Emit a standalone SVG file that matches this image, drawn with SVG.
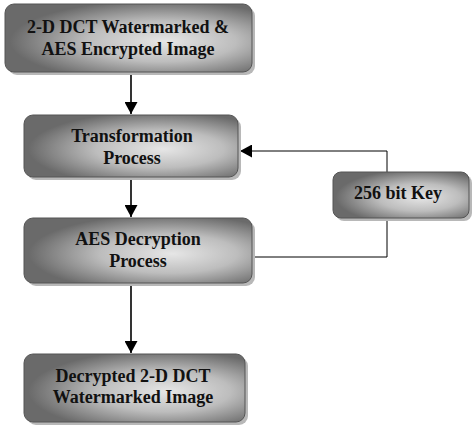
<svg xmlns="http://www.w3.org/2000/svg" width="474" height="430" viewBox="0 0 474 430">
<style>
.box{fill:url(#g);stroke:#555;stroke-width:1}
.sh{fill:#b8b8b8}
.t{font-family:"Liberation Serif",serif;font-weight:bold;font-size:18px;fill:#111;text-anchor:middle}
.c{fill:none;stroke:#000;stroke-width:1.6}
.k{fill:none;stroke:#000;stroke-width:1}
</style>
<defs>
<radialGradient id="g" cx="0.62" cy="0.55" r="0.6" fx="0.65" fy="0.55">
<stop offset="0" stop-color="#e6e6e6"/>
<stop offset="0.5" stop-color="#bdbdbd"/>
<stop offset="1" stop-color="#6a6a6a"/>
</radialGradient>
<marker id="a" markerWidth="13" markerHeight="13" refX="12" refY="6.5" orient="auto" markerUnits="userSpaceOnUse">
<path d="M0,0 L12,6.5 L0,13 Z" fill="#000"/>
</marker>
</defs>
<g id="connectors">
<line class="c" x1="131" y1="72" x2="131" y2="114" marker-end="url(#a)"/>
<line class="c" x1="131" y1="177" x2="131" y2="217" marker-end="url(#a)"/>
<line class="c" x1="131" y1="283" x2="131" y2="353" marker-end="url(#a)"/>
<polyline class="k" points="387,172 387,151 240,151" marker-end="url(#a)"/>
<polyline class="k" points="387,218 387,257 252,257"/>
</g>
<g id="n1">
<rect class="sh" x="8" y="7" width="247" height="68" rx="9"/>
<rect class="box" x="5" y="4" width="247" height="68" rx="9"/>
<text class="t" x="128" y="33">2-D DCT Watermarked &amp;</text>
<text class="t" x="128" y="55">AES Encrypted Image</text>
</g>
<g id="n2">
<rect class="sh" x="27" y="118" width="214" height="62" rx="9"/>
<rect class="box" x="24" y="115" width="214" height="62" rx="9"/>
<text class="t" x="132" y="142">Transformation</text>
<text class="t" x="132" y="164">Process</text>
</g>
<g id="n3">
<rect class="sh" x="27" y="221" width="228" height="65" rx="9"/>
<rect class="box" x="24" y="218" width="228" height="65" rx="9"/>
<text class="t" x="138" y="245">AES Decryption</text>
<text class="t" x="138" y="267">Process</text>
</g>
<g id="n4">
<rect class="sh" x="27" y="357" width="221" height="68" rx="9"/>
<rect class="box" x="24" y="354" width="221" height="68" rx="9"/>
<text class="t" x="133" y="382">Decrypted 2-D DCT</text>
<text class="t" x="133" y="403">Watermarked Image</text>
</g>
<g id="key">
<rect class="sh" x="336" y="175" width="136" height="46" rx="8"/>
<rect class="box" x="333" y="172" width="136" height="46" rx="8"/>
<text class="t" x="398" y="199">256 bit Key</text>
</g>
</svg>
